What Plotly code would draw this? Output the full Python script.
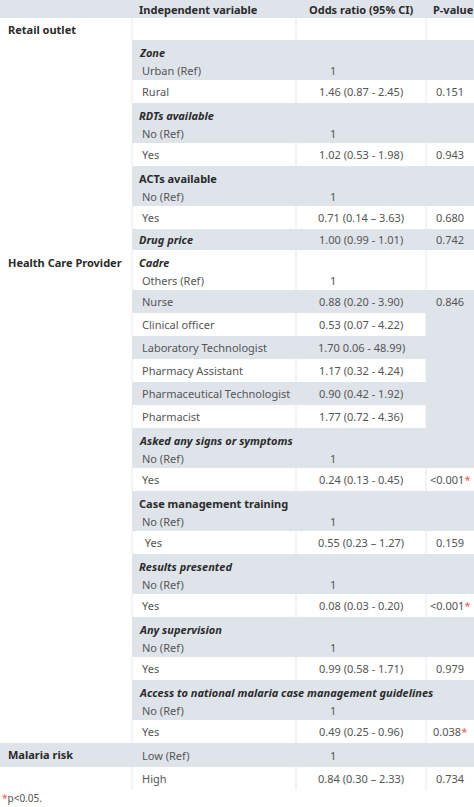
import plotly.graph_objects as go

# table content: (kind, label, odds ratio, p-value)
# kinds: blank, group (header + ref row), single value row, ref row
headers = ['Independent variable', 'Odds ratio (95% CI)', 'P-value']

sections = ['Retail outlet', 'Health Care Provider', 'Malaria risk']

rows = [
    ('blank', '', '', ''),
    ('group', 'Zone|Urban (Ref)', '1', ''),
    ('val', 'Rural', '1.46 (0.87 - 2.45)', '0.151'),
    ('group', 'RDTs available|No (Ref)', '1', ''),
    ('val', 'Yes', '1.02 (0.53 - 1.98)', '0.943'),
    ('group', 'ACTs available|No (Ref)', '1', ''),
    ('val', 'Yes', '0.71 (0.14 – 3.63)', '0.680'),
    ('headval', 'Drug price', '1.00 (0.99 - 1.01)', '0.742'),
    ('group', 'Cadre|Others (Ref)', '1', ''),
    ('val', 'Nurse', '0.88 (0.20 - 3.90)', '0.846'),
    ('val', 'Clinical officer', '0.53 (0.07 - 4.22)', ''),
    ('val', 'Laboratory Technologist', '1.70 0.06 - 48.99)', ''),
    ('val', 'Pharmacy Assistant', '1.17 (0.32 - 4.24)', ''),
    ('val', 'Pharmaceutical Technologist', '0.90 (0.42 - 1.92)', ''),
    ('val', 'Pharmacist', '1.77 (0.72 - 4.36)', ''),
    ('group', 'Asked any signs or symptoms|No (Ref)', '1', ''),
    ('val', 'Yes', '0.24 (0.13 - 0.45)', '<0.001*'),
    ('group', 'Case management training|No (Ref)', '1', ''),
    ('val', ' Yes', '0.55 (0.23 – 1.27)', '0.159'),
    ('group', 'Results presented|No (Ref)', '1', ''),
    ('val', 'Yes', '0.08 (0.03 - 0.20)', '<0.001*'),
    ('group', 'Any supervision|No (Ref)', '1', ''),
    ('val', 'Yes', '0.99 (0.58 - 1.71)', '0.979'),
    ('group', 'Access to national malaria case management guidelines|No (Ref)', '1', ''),
    ('val', 'Yes', '0.49 (0.25 - 0.96)', '0.038*'),
    ('ref', 'Low (Ref)', '1', ''),
    ('val', 'High', '0.84 (0.30 – 2.33)', '0.734'),
]
section_start = [0, 8, 25]
not_italic = ['ACTs available', 'Case management training']

GRAY = '#dfe4eb'
LINE = '#e3e7ec'
DARK = '#2b2b2b'
TXT = '#555555'
cols = [0, 132, 296, 426, 474]

shapes = []
ann = []


def text(x, y, s, bold=False, italic=False, anchor='left', color=TXT, size=11):
    if italic:
        s = '<i>' + s + '</i>'
    if bold:
        s = '<b>' + s + '</b>'
    s = s.replace('*', '<span style="color:#e0604a">*</span>')
    ann.append(dict(x=x, y=y, text=s, showarrow=False, xanchor=anchor, yanchor='middle',
                    font=dict(size=size, color=DARK if bold else color)))


def rect(x0, x1, y0, y1, fill):
    shapes.append(dict(type='rect', x0=x0, x1=x1, y0=y0, y1=y1, fillcolor=fill,
                       line=dict(width=0), layer='below'))


# header
rect(0, 474, 0, 18, GRAY)
text(137, 9, headers[0], bold=True)
text(361, 9, headers[1], bold=True, anchor='center')
text(431, 9, headers[2], bold=True)

y = 18
heights = {'blank': 22, 'group': 40, 'val': 23, 'headval': 21, 'ref': 24}
pspan = None
for i, (kind, label, odds, p) in enumerate(rows):
    h = heights[kind]
    gray = i % 2 == 1
    x_left = 0 if i >= section_start[2] else cols[1]
    if gray:
        rect(x_left, 474, y, y + h, GRAY)
    else:
        for cx in cols[1:4]:
            shapes.append(dict(type='line', x0=cx, x1=cx, y0=y, y1=y + h,
                               line=dict(color=LINE, width=1)))
    if i in section_start:
        sy = y + 11 if kind != 'group' else y + 12
        text(6, sy, sections[section_start.index(i)], bold=True)
    mid = y + h / 2
    if kind == 'group':
        head, ref = label.split('|')
        text(137, y + 12, head, bold=True, italic=head not in not_italic)
        text(140, y + 30, ref)
        text(328, y + 30, odds)
    elif kind == 'headval':
        text(137, mid, label, bold=True, italic=True)
        text(361, mid, odds, anchor='center')
        text(450, mid, p, anchor='center')
    elif kind == 'ref':
        text(140, mid, label)
        text(328, mid, odds)
    elif kind == 'val':
        text(140, mid, label)
        text(361, mid, odds, anchor='center')
        if p and p == '0.846':
            pspan = [y, p]
        elif p:
            text(450, mid, p, anchor='center')
    if label == 'Pharmacist' and pspan:
        rect(cols[3], 474, pspan[0], y + h, GRAY)
        text(450, pspan[0] + 11, pspan[1], anchor='center')
    y += h

text(0, y + 8, '*p<0.05.', size=10)

fig = go.Figure()
fig.update_layout(
    width=474, height=807, margin=dict(l=0, r=0, t=0, b=0),
    plot_bgcolor='white', paper_bgcolor='white',
    font=dict(family='Noto Sans, Open Sans, sans-serif'),
    xaxis=dict(range=[0, 474], visible=False, fixedrange=True),
    yaxis=dict(range=[807, 0], visible=False, fixedrange=True),
    shapes=shapes, annotations=ann, showlegend=False,
)
fig.write_html('out.html', config={'displayModeBar': False},
               post_script="document.body.style.margin='0';document.body.style.overflow='hidden';")
